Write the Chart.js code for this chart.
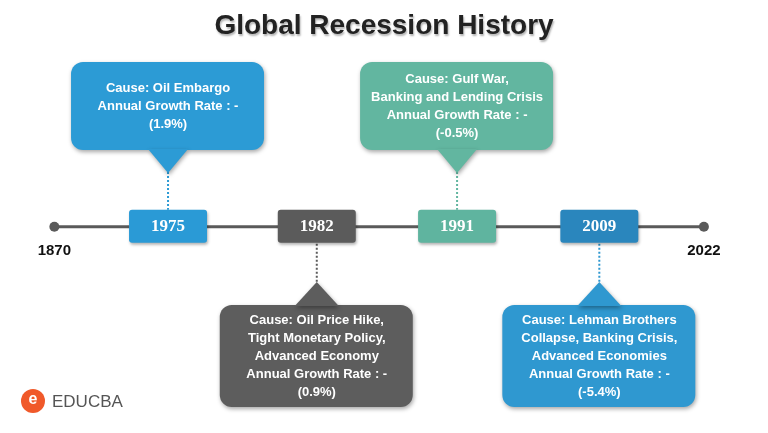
<!DOCTYPE html>
<html>
<head>
<meta charset="utf-8">
<script src="https://cdn.jsdelivr.net/npm/chart.js@4"></script>
<style>
  html, body { margin: 0; padding: 0; background: #fff; }
  #wrap { width: 768px; height: 433px; }
</style>
</head>
<body>
<div id="wrap"><canvas id="c"></canvas></div>
<script>
// timeline data
const endYears = ['1870', '2022'];
const endPos = [0, 1];
const years = ['1975', '1982', '1991', '2009'];
const yearPos = [0.175, 0.404, 0.62, 0.839];
const above = [true, false, true, false];
const boxColors = ['#2a9ad6', '#5b5b5b', '#5fb49f', '#2a86bd'];
const calloutColors = ['#2c9bd5', '#5d5d5d', '#62b6a0', '#2f98d0'];
const calloutText = [
  ['Cause: Oil Embargo', 'Annual Growth Rate : -', '(1.9%)'],
  ['Cause: Oil Price Hike,', 'Tight Monetary Policy,', 'Advanced Economy', 'Annual Growth Rate : -', '(0.9%)'],
  ['Cause: Gulf War,', 'Banking and Lending Crisis', 'Annual Growth Rate : -', '(-0.5%)'],
  ['Cause: Lehman Brothers', 'Collapse, Banking Crisis,', 'Advanced Economies', 'Annual Growth Rate : -', '(-5.4%)']
];
const lineY = 227;

function roundRect(ctx, x, y, w, h, r) {
  ctx.beginPath();
  ctx.moveTo(x + r, y);
  ctx.arcTo(x + w, y, x + w, y + h, r);
  ctx.arcTo(x + w, y + h, x, y + h, r);
  ctx.arcTo(x, y + h, x, y, r);
  ctx.arcTo(x, y, x + w, y, r);
  ctx.closePath();
}

const infographic = {
  id: 'infographic',
  afterDatasetsDraw(chart) {
    const ctx = chart.ctx;
    const xs = chart.scales.x, ys = chart.scales.y;
    const ly = ys.getPixelForValue(lineY);
    ctx.save();
    // title
    ctx.fillStyle = '#222';
    ctx.font = 'bold 28px "Liberation Sans", Arial';
    ctx.textAlign = 'center';
    ctx.textBaseline = 'middle';
    ctx.shadowColor = 'rgba(0,0,0,0.3)';
    ctx.shadowOffsetX = 1; ctx.shadowOffsetY = 2; ctx.shadowBlur = 2;
    ctx.fillText('Global Recession History', 384, 26);
    ctx.shadowColor = 'transparent';
    // end labels
    ctx.font = 'bold 15px "Liberation Sans", Arial';
    ctx.fillStyle = '#111';
    endYears.forEach((t, i) => ctx.fillText(t, xs.getPixelForValue(endPos[i]), ly + 24));

    years.forEach((yr, i) => {
      const cx = xs.getPixelForValue(yearPos[i]);
      const up = above[i];
      const lines = calloutText[i];
      // dotted connector
      ctx.strokeStyle = calloutColors[i];
      ctx.lineWidth = 2;
      ctx.setLineDash([2, 2]);
      ctx.beginPath();
      if (up) { ctx.moveTo(cx, 172); ctx.lineTo(cx, ly - 17); }
      else { ctx.moveTo(cx, ly + 17); ctx.lineTo(cx, 282); }
      ctx.stroke();
      ctx.setLineDash([]);
      // callout
      const w = 193, h = up ? 88 : 102;
      const bx = cx - (up ? 97 : 97);
      const by = up ? 62 : 305;
      ctx.fillStyle = calloutColors[i];
      ctx.shadowColor = 'rgba(0,0,0,0.35)';
      ctx.shadowOffsetY = 2; ctx.shadowBlur = 4;
      roundRect(ctx, bx, by, w, h, 12);
      ctx.fill();
      ctx.beginPath();
      if (up) { ctx.moveTo(cx - 20, by + h - 1); ctx.lineTo(cx, 173); ctx.lineTo(cx + 20, by + h - 1); }
      else { ctx.moveTo(cx - 22, by + 1); ctx.lineTo(cx, 282); ctx.lineTo(cx + 22, by + 1); }
      ctx.fill();
      ctx.shadowColor = 'transparent';
      ctx.fillStyle = '#fff';
      ctx.font = 'bold 13px "Liberation Sans", Arial';
      const lh = 18;
      const ty = by + h / 2 - (lines.length - 1) * lh / 2;
      lines.forEach((l, k) => ctx.fillText(l, cx, ty + k * lh));
      // year box
      ctx.fillStyle = boxColors[i];
      ctx.shadowColor = 'rgba(0,0,0,0.3)';
      ctx.shadowOffsetY = 2; ctx.shadowBlur = 3;
      roundRect(ctx, cx - 39, ly - 17, 78, 33, 3);
      ctx.fill();
      ctx.shadowColor = 'transparent';
      ctx.fillStyle = '#fff';
      ctx.font = 'bold 17px "Liberation Serif", serif';
      ctx.fillText(yr, cx, ly);
    });

    // logo
    ctx.fillStyle = '#f0592a';
    ctx.beginPath(); ctx.arc(33, 401, 12, 0, Math.PI * 2); ctx.fill();
    ctx.fillStyle = '#fff';
    ctx.font = 'bold 16px "Liberation Sans", Arial';
    ctx.fillText('e', 33, 400);
    ctx.fillStyle = '#555';
    ctx.textAlign = 'left';
    ctx.font = '17px "Liberation Sans", Arial';
    ctx.fillText('EDUCBA', 52, 402);
    ctx.restore();
  }
};

new Chart(document.getElementById('c'), {
  type: 'scatter',
  data: {
    datasets: [{
      type: 'line',
      data: endPos.map(p => ({ x: p, y: lineY })),
      borderColor: '#5a5a5a',
      borderWidth: 3,
      pointRadius: 5,
      pointBackgroundColor: '#5a5a5a',
      pointBorderWidth: 0
    }]
  },
  options: {
    responsive: true,
    maintainAspectRatio: false,
    animation: false,
    layout: { padding: 0 },
    plugins: { legend: { display: false }, tooltip: { enabled: false } },
    scales: {
      x: { type: 'linear', display: false, min: -0.076, max: 1.091 },
      y: { type: 'linear', display: false, min: 0, max: 433, reverse: true }
    }
  },
  plugins: [infographic]
});
</script>
</body>
</html>
